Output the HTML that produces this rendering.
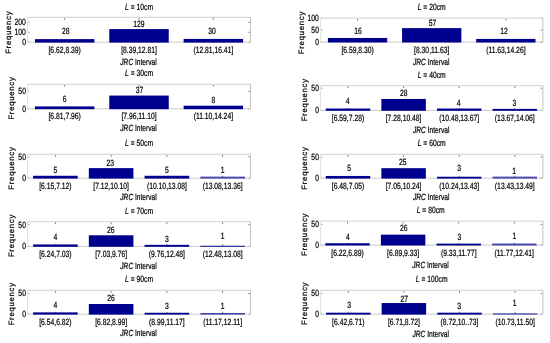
<!DOCTYPE html>
<html><head><meta charset="utf-8"><title>JRC interval frequency</title>
<style>
html,body{margin:0;padding:0;background:#fff}
svg{display:block;font-family:"Liberation Sans",sans-serif;text-rendering:geometricPrecision}
text{fill:#000;stroke:#000;stroke-width:0.22px}
</style></head><body>
<svg width="550" height="343" viewBox="0 0 550 343">
<rect width="550" height="343" fill="#fff"/>
<g><path d="M64.67 17.40v2.4M64.67 42.20v-2.4M139.00 17.40v2.4M139.00 42.20v-2.4M213.33 17.40v2.4M213.33 42.20v-2.4" stroke="#555" stroke-width="0.75" fill="none"/><path d="M250.5 42.20h-2.4M250.5 32.28h-2.4M250.5 22.36h-2.4" stroke="#777" stroke-width="0.75" fill="none"/><path d="M27.5 42.20h2.2M27.5 32.28h2.2M27.5 22.36h2.2" stroke="#999" stroke-width="0.75" fill="none"/><path d="M27.5 17.4H250.5" stroke="#d8d8d8" stroke-width="1.2" fill="none"/><path d="M27.5 17.4V42.2" stroke="#e2e2e2" stroke-width="1" fill="none"/><path d="M27.5 42.2H250.5" stroke="#cccccc" stroke-width="1" fill="none"/><path d="M250.5 17.4V42.2" stroke="#c2c2c2" stroke-width="1" fill="none"/><rect x="34.93" y="39.12" width="59.47" height="3.48" fill="#00008f"/><rect x="109.27" y="29.10" width="59.47" height="13.50" fill="#00008f"/><rect x="183.60" y="38.92" width="59.47" height="3.68" fill="#00008f"/><text transform="translate(65.80 34.30) scale(0.752 1)" text-anchor="middle" font-size="9.0">28</text><text transform="translate(64.67 52.80) scale(0.752 1)" text-anchor="middle" font-size="9.0">[6.62,8.39)</text><text transform="translate(138.90 26.90) scale(0.752 1)" text-anchor="middle" font-size="9.0">129</text><text transform="translate(139.00 52.80) scale(0.752 1)" text-anchor="middle" font-size="9.0">[8.39,12.81]</text><text transform="translate(211.90 33.50) scale(0.752 1)" text-anchor="middle" font-size="9.0">30</text><text transform="translate(213.33 52.80) scale(0.752 1)" text-anchor="middle" font-size="9.0">(12.81,16.41]</text><text transform="translate(25.90 45.00) scale(0.752 1)" text-anchor="end" font-size="9.0">0</text><text transform="translate(25.90 35.08) scale(0.752 1)" text-anchor="end" font-size="9.0">100</text><text transform="translate(25.90 25.16) scale(0.752 1)" text-anchor="end" font-size="9.0">200</text><text transform="translate(139.00 10.00) scale(0.752 1)" text-anchor="middle" font-size="9.0"><tspan font-style="italic">L</tspan> = 10cm</text><text transform="translate(138.50 64.70) scale(0.735 1)" text-anchor="middle" font-size="9.0"><tspan font-style="italic">JRC</tspan> Interval</text><text transform="translate(11.10 32.30) rotate(-90)" text-anchor="middle" font-size="7.8" letter-spacing="0.7" stroke-width="0.12">Frequency</text></g>
<g><path d="M357.57 18.10v2.4M357.57 42.10v-2.4M431.70 18.10v2.4M431.70 42.10v-2.4M505.83 18.10v2.4M505.83 42.10v-2.4" stroke="#555" stroke-width="0.75" fill="none"/><path d="M542.9 42.10h-2.4M542.9 30.10h-2.4M542.9 18.10h-2.4" stroke="#777" stroke-width="0.75" fill="none"/><path d="M320.5 42.10h2.2M320.5 30.10h2.2M320.5 18.10h2.2" stroke="#999" stroke-width="0.75" fill="none"/><path d="M320.5 18.1H542.9" stroke="#d8d8d8" stroke-width="1.2" fill="none"/><path d="M320.5 18.1V42.1" stroke="#e2e2e2" stroke-width="1" fill="none"/><path d="M320.5 42.1H542.9" stroke="#cccccc" stroke-width="1" fill="none"/><path d="M542.9 18.1V42.1" stroke="#c2c2c2" stroke-width="1" fill="none"/><rect x="327.91" y="37.96" width="59.31" height="4.54" fill="#00008f"/><rect x="402.05" y="28.12" width="59.31" height="14.38" fill="#00008f"/><rect x="476.18" y="38.92" width="59.31" height="3.58" fill="#00008f"/><text transform="translate(358.00 33.80) scale(0.752 1)" text-anchor="middle" font-size="9.0">16</text><text transform="translate(357.57 52.70) scale(0.752 1)" text-anchor="middle" font-size="9.0">[6.59,8.30)</text><text transform="translate(432.50 25.90) scale(0.752 1)" text-anchor="middle" font-size="9.0">57</text><text transform="translate(431.70 52.70) scale(0.752 1)" text-anchor="middle" font-size="9.0">[8.30,11.63]</text><text transform="translate(504.00 33.90) scale(0.752 1)" text-anchor="middle" font-size="9.0">12</text><text transform="translate(505.83 52.70) scale(0.752 1)" text-anchor="middle" font-size="9.0">(11.63,14.26]</text><text transform="translate(318.90 44.90) scale(0.752 1)" text-anchor="end" font-size="9.0">0</text><text transform="translate(318.90 32.90) scale(0.752 1)" text-anchor="end" font-size="9.0">50</text><text transform="translate(318.90 20.90) scale(0.752 1)" text-anchor="end" font-size="9.0">100</text><text transform="translate(431.70 9.70) scale(0.752 1)" text-anchor="middle" font-size="9.0"><tspan font-style="italic">L</tspan> = 20cm</text><text transform="translate(431.20 64.60) scale(0.735 1)" text-anchor="middle" font-size="9.0"><tspan font-style="italic">JRC</tspan> Interval</text><text transform="translate(304.10 32.60) rotate(-90)" text-anchor="middle" font-size="7.8" letter-spacing="0.7" stroke-width="0.12">Frequency</text></g>
<g><path d="M64.67 84.30v2.4M64.67 108.80v-2.4M139.00 84.30v2.4M139.00 108.80v-2.4M213.33 84.30v2.4M213.33 108.80v-2.4" stroke="#555" stroke-width="0.75" fill="none"/><path d="M250.5 108.80h-2.4M250.5 91.30h-2.4" stroke="#777" stroke-width="0.75" fill="none"/><path d="M27.5 108.80h2.2M27.5 91.30h2.2" stroke="#999" stroke-width="0.75" fill="none"/><path d="M27.5 84.3H250.5" stroke="#d8d8d8" stroke-width="1.2" fill="none"/><path d="M27.5 84.3V108.8" stroke="#e2e2e2" stroke-width="1" fill="none"/><path d="M27.5 108.8H250.5" stroke="#cccccc" stroke-width="1" fill="none"/><path d="M250.5 84.3V108.8" stroke="#c2c2c2" stroke-width="1" fill="none"/><rect x="34.93" y="106.40" width="59.47" height="2.80" fill="#00008f"/><rect x="109.27" y="95.55" width="59.47" height="13.65" fill="#00008f"/><rect x="183.60" y="105.70" width="59.47" height="3.50" fill="#00008f"/><text transform="translate(64.70 102.20) scale(0.752 1)" text-anchor="middle" font-size="9.0">6</text><text transform="translate(64.67 119.20) scale(0.752 1)" text-anchor="middle" font-size="9.0">[6.81,7.96)</text><text transform="translate(139.40 92.50) scale(0.752 1)" text-anchor="middle" font-size="9.0">37</text><text transform="translate(139.00 119.20) scale(0.752 1)" text-anchor="middle" font-size="9.0">[7.96,11.10]</text><text transform="translate(213.50 102.80) scale(0.752 1)" text-anchor="middle" font-size="9.0">8</text><text transform="translate(213.33 119.20) scale(0.752 1)" text-anchor="middle" font-size="9.0">(11.10,14.24]</text><text transform="translate(25.90 111.60) scale(0.752 1)" text-anchor="end" font-size="9.0">0</text><text transform="translate(25.90 94.10) scale(0.752 1)" text-anchor="end" font-size="9.0">50</text><text transform="translate(139.00 75.90) scale(0.752 1)" text-anchor="middle" font-size="9.0"><tspan font-style="italic">L</tspan> = 30cm</text><text transform="translate(138.50 131.10) scale(0.735 1)" text-anchor="middle" font-size="9.0"><tspan font-style="italic">JRC</tspan> Interval</text><text transform="translate(13.60 98.05) rotate(-90)" text-anchor="middle" font-size="7.8" letter-spacing="0.7" stroke-width="0.12">Frequency</text></g>
<g><path d="M348.00 85.60v2.4M348.00 110.40v-2.4M403.60 85.60v2.4M403.60 110.40v-2.4M459.20 85.60v2.4M459.20 110.40v-2.4M514.80 85.60v2.4M514.80 110.40v-2.4" stroke="#555" stroke-width="0.75" fill="none"/><path d="M542.9 110.40h-2.4M542.9 88.26h-2.4" stroke="#777" stroke-width="0.75" fill="none"/><path d="M320.5 110.40h2.2M320.5 88.26h2.2" stroke="#999" stroke-width="0.75" fill="none"/><path d="M320.5 85.6H542.9" stroke="#d8d8d8" stroke-width="1.2" fill="none"/><path d="M320.5 85.6V110.4" stroke="#e2e2e2" stroke-width="1" fill="none"/><path d="M320.5 110.4H542.9" stroke="#cccccc" stroke-width="1" fill="none"/><path d="M542.9 85.6V110.4" stroke="#c2c2c2" stroke-width="1" fill="none"/><rect x="325.76" y="108.51" width="44.48" height="2.29" fill="#00008f"/><rect x="381.36" y="98.94" width="44.48" height="11.86" fill="#00008f"/><rect x="436.96" y="108.51" width="44.48" height="2.29" fill="#00008f"/><rect x="492.56" y="108.90" width="44.48" height="1.90" fill="#00008f"/><text transform="translate(347.75 104.40) scale(0.752 1)" text-anchor="middle" font-size="9.0">4</text><text transform="translate(348.00 121.20) scale(0.752 1)" text-anchor="middle" font-size="9.0">[6.59,7.28)</text><text transform="translate(403.75 96.30) scale(0.752 1)" text-anchor="middle" font-size="9.0">28</text><text transform="translate(403.60 121.20) scale(0.752 1)" text-anchor="middle" font-size="9.0">[7.28,10.48]</text><text transform="translate(458.75 105.60) scale(0.752 1)" text-anchor="middle" font-size="9.0">4</text><text transform="translate(459.20 121.20) scale(0.752 1)" text-anchor="middle" font-size="9.0">(10.48,13.67]</text><text transform="translate(514.35 106.00) scale(0.752 1)" text-anchor="middle" font-size="9.0">3</text><text transform="translate(514.80 121.20) scale(0.752 1)" text-anchor="middle" font-size="9.0">(13.67,14.06]</text><text transform="translate(318.90 113.20) scale(0.752 1)" text-anchor="end" font-size="9.0">0</text><text transform="translate(318.90 91.06) scale(0.752 1)" text-anchor="end" font-size="9.0">50</text><text transform="translate(431.70 77.80) scale(0.752 1)" text-anchor="middle" font-size="9.0"><tspan font-style="italic">L</tspan> = 40cm</text><text transform="translate(431.20 132.70) scale(0.735 1)" text-anchor="middle" font-size="9.0"><tspan font-style="italic">JRC</tspan> Interval</text><text transform="translate(307.10 99.80) rotate(-90)" text-anchor="middle" font-size="7.8" letter-spacing="0.7" stroke-width="0.12">Frequency</text></g>
<g><path d="M55.38 154.40v2.4M55.38 178.20v-2.4M111.12 154.40v2.4M111.12 178.20v-2.4M166.88 154.40v2.4M166.88 178.20v-2.4M222.62 154.40v2.4M222.62 178.20v-2.4" stroke="#555" stroke-width="0.75" fill="none"/><path d="M250.5 178.20h-2.4M250.5 156.95h-2.4" stroke="#777" stroke-width="0.75" fill="none"/><path d="M27.5 178.20h2.2M27.5 156.95h2.2" stroke="#999" stroke-width="0.75" fill="none"/><path d="M27.5 154.4H250.5" stroke="#d8d8d8" stroke-width="1.2" fill="none"/><path d="M27.5 154.4V178.2" stroke="#e2e2e2" stroke-width="1" fill="none"/><path d="M27.5 178.2H250.5" stroke="#cccccc" stroke-width="1" fill="none"/><path d="M250.5 154.4V178.2" stroke="#c2c2c2" stroke-width="1" fill="none"/><rect x="33.08" y="175.77" width="44.60" height="2.82" fill="#00008f"/><rect x="88.83" y="168.12" width="44.60" height="10.47" fill="#00008f"/><rect x="144.57" y="175.77" width="44.60" height="2.82" fill="#00008f"/><rect x="200.32" y="176.60" width="44.60" height="2.00" fill="#00008f" opacity="0.68"/><text transform="translate(55.40 172.70) scale(0.752 1)" text-anchor="middle" font-size="9.0">5</text><text transform="translate(55.38 189.10) scale(0.752 1)" text-anchor="middle" font-size="9.0">[6.15,7.12)</text><text transform="translate(110.30 166.30) scale(0.752 1)" text-anchor="middle" font-size="9.0">23</text><text transform="translate(111.12 189.10) scale(0.752 1)" text-anchor="middle" font-size="9.0">[7.12,10.10]</text><text transform="translate(166.90 172.60) scale(0.752 1)" text-anchor="middle" font-size="9.0">5</text><text transform="translate(166.88 189.10) scale(0.752 1)" text-anchor="middle" font-size="9.0">(10.10,13.08]</text><text transform="translate(222.60 172.90) scale(0.752 1)" text-anchor="middle" font-size="9.0">1</text><text transform="translate(222.62 189.10) scale(0.752 1)" text-anchor="middle" font-size="9.0">(13.08,13.36]</text><text transform="translate(25.90 181.00) scale(0.752 1)" text-anchor="end" font-size="9.0">0</text><text transform="translate(25.90 159.75) scale(0.752 1)" text-anchor="end" font-size="9.0">50</text><text transform="translate(139.00 146.00) scale(0.752 1)" text-anchor="middle" font-size="9.0"><tspan font-style="italic">L</tspan> = 50cm</text><text transform="translate(138.50 200.30) scale(0.735 1)" text-anchor="middle" font-size="9.0"><tspan font-style="italic">JRC</tspan> Interval</text><text transform="translate(13.60 168.10) rotate(-90)" text-anchor="middle" font-size="7.8" letter-spacing="0.7" stroke-width="0.12">Frequency</text></g>
<g><path d="M348.00 154.40v2.4M348.00 178.20v-2.4M403.60 154.40v2.4M403.60 178.20v-2.4M459.20 154.40v2.4M459.20 178.20v-2.4M514.80 154.40v2.4M514.80 178.20v-2.4" stroke="#555" stroke-width="0.75" fill="none"/><path d="M542.9 178.20h-2.4M542.9 156.95h-2.4" stroke="#777" stroke-width="0.75" fill="none"/><path d="M320.5 178.20h2.2M320.5 156.95h2.2" stroke="#999" stroke-width="0.75" fill="none"/><path d="M320.5 154.4H542.9" stroke="#d8d8d8" stroke-width="1.2" fill="none"/><path d="M320.5 154.4V178.2" stroke="#e2e2e2" stroke-width="1" fill="none"/><path d="M320.5 178.2H542.9" stroke="#cccccc" stroke-width="1" fill="none"/><path d="M542.9 154.4V178.2" stroke="#c2c2c2" stroke-width="1" fill="none"/><rect x="325.76" y="175.96" width="44.48" height="2.64" fill="#00008f"/><rect x="381.36" y="168.18" width="44.48" height="10.42" fill="#00008f"/><rect x="436.96" y="176.73" width="44.48" height="1.87" fill="#00008f"/><rect x="492.56" y="176.60" width="44.48" height="2.00" fill="#00008f" opacity="0.68"/><text transform="translate(349.05 170.60) scale(0.752 1)" text-anchor="middle" font-size="9.0">5</text><text transform="translate(348.00 188.70) scale(0.752 1)" text-anchor="middle" font-size="9.0">[6.48,7.05)</text><text transform="translate(402.75 165.20) scale(0.752 1)" text-anchor="middle" font-size="9.0">25</text><text transform="translate(403.60 188.70) scale(0.752 1)" text-anchor="middle" font-size="9.0">[7.05,10.24]</text><text transform="translate(459.25 171.40) scale(0.752 1)" text-anchor="middle" font-size="9.0">3</text><text transform="translate(459.20 188.70) scale(0.752 1)" text-anchor="middle" font-size="9.0">(10.24,13.43]</text><text transform="translate(514.25 174.20) scale(0.752 1)" text-anchor="middle" font-size="9.0">1</text><text transform="translate(514.80 188.70) scale(0.752 1)" text-anchor="middle" font-size="9.0">(13.43,13.49]</text><text transform="translate(318.90 181.00) scale(0.752 1)" text-anchor="end" font-size="9.0">0</text><text transform="translate(318.90 159.75) scale(0.752 1)" text-anchor="end" font-size="9.0">50</text><text transform="translate(431.70 146.00) scale(0.752 1)" text-anchor="middle" font-size="9.0"><tspan font-style="italic">L</tspan> = 60cm</text><text transform="translate(431.20 200.30) scale(0.735 1)" text-anchor="middle" font-size="9.0"><tspan font-style="italic">JRC</tspan> Interval</text><text transform="translate(307.10 168.10) rotate(-90)" text-anchor="middle" font-size="7.8" letter-spacing="0.7" stroke-width="0.12">Frequency</text></g>
<g><path d="M55.38 221.70v2.4M55.38 246.40v-2.4M111.12 221.70v2.4M111.12 246.40v-2.4M166.88 221.70v2.4M166.88 246.40v-2.4M222.62 221.70v2.4M222.62 246.40v-2.4" stroke="#555" stroke-width="0.75" fill="none"/><path d="M250.5 246.40h-2.4M250.5 224.73h-2.4" stroke="#777" stroke-width="0.75" fill="none"/><path d="M27.5 246.40h2.2M27.5 224.73h2.2" stroke="#999" stroke-width="0.75" fill="none"/><path d="M27.5 221.7H250.5" stroke="#d8d8d8" stroke-width="1.2" fill="none"/><path d="M27.5 221.7V246.4" stroke="#e2e2e2" stroke-width="1" fill="none"/><path d="M27.5 246.4H250.5" stroke="#cccccc" stroke-width="1" fill="none"/><path d="M250.5 221.7V246.4" stroke="#c2c2c2" stroke-width="1" fill="none"/><rect x="33.08" y="244.44" width="44.60" height="2.36" fill="#00008f"/><rect x="88.83" y="235.28" width="44.60" height="11.52" fill="#00008f"/><rect x="144.57" y="244.85" width="44.60" height="1.95" fill="#00008f"/><rect x="200.32" y="245.75" width="44.60" height="1.05" fill="#00008f" opacity="0.9"/><text transform="translate(55.40 239.60) scale(0.752 1)" text-anchor="middle" font-size="9.0">4</text><text transform="translate(55.38 257.40) scale(0.752 1)" text-anchor="middle" font-size="9.0">[6.24,7.03)</text><text transform="translate(110.70 232.70) scale(0.752 1)" text-anchor="middle" font-size="9.0">26</text><text transform="translate(111.12 257.40) scale(0.752 1)" text-anchor="middle" font-size="9.0">[7.03,9.76]</text><text transform="translate(166.90 242.20) scale(0.752 1)" text-anchor="middle" font-size="9.0">3</text><text transform="translate(166.88 257.40) scale(0.752 1)" text-anchor="middle" font-size="9.0">(9.76,12.48]</text><text transform="translate(222.60 239.20) scale(0.752 1)" text-anchor="middle" font-size="9.0">1</text><text transform="translate(222.62 257.40) scale(0.752 1)" text-anchor="middle" font-size="9.0">(12.48,13.08]</text><text transform="translate(25.90 249.20) scale(0.752 1)" text-anchor="end" font-size="9.0">0</text><text transform="translate(25.90 227.53) scale(0.752 1)" text-anchor="end" font-size="9.0">50</text><text transform="translate(139.00 213.80) scale(0.752 1)" text-anchor="middle" font-size="9.0"><tspan font-style="italic">L</tspan> = 70cm</text><text transform="translate(138.50 268.70) scale(0.735 1)" text-anchor="middle" font-size="9.0"><tspan font-style="italic">JRC</tspan> Interval</text><text transform="translate(13.60 235.55) rotate(-90)" text-anchor="middle" font-size="7.8" letter-spacing="0.7" stroke-width="0.12">Frequency</text></g>
<g><path d="M347.50 221.10v2.4M347.50 245.10v-2.4M403.10 221.10v2.4M403.10 245.10v-2.4M458.70 221.10v2.4M458.70 245.10v-2.4M514.30 221.10v2.4M514.30 245.10v-2.4" stroke="#555" stroke-width="0.75" fill="none"/><path d="M542.9 245.10h-2.4M542.9 224.59h-2.4" stroke="#777" stroke-width="0.75" fill="none"/><path d="M320.5 245.10h2.2M320.5 224.59h2.2" stroke="#999" stroke-width="0.75" fill="none"/><path d="M320.5 221.1H542.9" stroke="#d8d8d8" stroke-width="1.2" fill="none"/><path d="M320.5 221.1V245.1" stroke="#e2e2e2" stroke-width="1" fill="none"/><path d="M320.5 245.1H542.9" stroke="#cccccc" stroke-width="1" fill="none"/><path d="M542.9 221.1V245.1" stroke="#c2c2c2" stroke-width="1" fill="none"/><rect x="325.26" y="243.24" width="44.48" height="2.26" fill="#00008f"/><rect x="380.86" y="234.67" width="44.48" height="10.83" fill="#00008f"/><rect x="436.46" y="243.63" width="44.48" height="1.87" fill="#00008f"/><rect x="492.06" y="243.50" width="44.48" height="2.00" fill="#00008f" opacity="0.68"/><text transform="translate(348.00 239.60) scale(0.752 1)" text-anchor="middle" font-size="9.0">4</text><text transform="translate(347.50 256.20) scale(0.752 1)" text-anchor="middle" font-size="9.0">[6.22,6.89)</text><text transform="translate(403.75 230.70) scale(0.752 1)" text-anchor="middle" font-size="9.0">26</text><text transform="translate(403.10 256.20) scale(0.752 1)" text-anchor="middle" font-size="9.0">[6.89,9.33]</text><text transform="translate(459.40 239.90) scale(0.752 1)" text-anchor="middle" font-size="9.0">3</text><text transform="translate(458.70 256.20) scale(0.752 1)" text-anchor="middle" font-size="9.0">(9.33,11.77]</text><text transform="translate(514.40 238.60) scale(0.752 1)" text-anchor="middle" font-size="9.0">1</text><text transform="translate(514.30 256.20) scale(0.752 1)" text-anchor="middle" font-size="9.0">(11.77,12.41]</text><text transform="translate(318.90 247.90) scale(0.752 1)" text-anchor="end" font-size="9.0">0</text><text transform="translate(318.90 227.39) scale(0.752 1)" text-anchor="end" font-size="9.0">50</text><text transform="translate(430.70 212.80) scale(0.752 1)" text-anchor="middle" font-size="9.0"><tspan font-style="italic">L</tspan> = 80cm</text><text transform="translate(430.50 267.50) scale(0.735 1)" text-anchor="middle" font-size="9.0"><tspan font-style="italic">JRC</tspan> Interval</text><text transform="translate(307.10 234.40) rotate(-90)" text-anchor="middle" font-size="7.8" letter-spacing="0.7" stroke-width="0.12">Frequency</text></g>
<g><path d="M55.38 290.40v2.4M55.38 314.20v-2.4M111.12 290.40v2.4M111.12 314.20v-2.4M166.88 290.40v2.4M166.88 314.20v-2.4M222.62 290.40v2.4M222.62 314.20v-2.4" stroke="#555" stroke-width="0.75" fill="none"/><path d="M250.5 314.20h-2.4M250.5 293.50h-2.4" stroke="#777" stroke-width="0.75" fill="none"/><path d="M27.5 314.20h2.2M27.5 293.50h2.2" stroke="#999" stroke-width="0.75" fill="none"/><path d="M27.5 290.4H250.5" stroke="#d8d8d8" stroke-width="1.2" fill="none"/><path d="M27.5 290.4V314.2" stroke="#e2e2e2" stroke-width="1" fill="none"/><path d="M27.5 314.2H250.5" stroke="#cccccc" stroke-width="1" fill="none"/><path d="M250.5 290.4V314.2" stroke="#c2c2c2" stroke-width="1" fill="none"/><rect x="33.08" y="312.38" width="44.60" height="2.22" fill="#00008f"/><rect x="88.83" y="304.00" width="44.60" height="10.60" fill="#00008f"/><rect x="144.57" y="312.76" width="44.60" height="1.84" fill="#00008f"/><rect x="200.32" y="313.00" width="44.60" height="1.60" fill="#00008f" opacity="0.7"/><text transform="translate(55.40 307.60) scale(0.752 1)" text-anchor="middle" font-size="9.0">4</text><text transform="translate(55.38 325.00) scale(0.752 1)" text-anchor="middle" font-size="9.0">[6.54,6.82)</text><text transform="translate(111.10 300.70) scale(0.752 1)" text-anchor="middle" font-size="9.0">26</text><text transform="translate(111.12 325.00) scale(0.752 1)" text-anchor="middle" font-size="9.0">[6.82,8.99]</text><text transform="translate(166.90 309.20) scale(0.752 1)" text-anchor="middle" font-size="9.0">3</text><text transform="translate(166.88 325.00) scale(0.752 1)" text-anchor="middle" font-size="9.0">(8.99,11.17]</text><text transform="translate(222.60 308.60) scale(0.752 1)" text-anchor="middle" font-size="9.0">1</text><text transform="translate(222.62 325.00) scale(0.752 1)" text-anchor="middle" font-size="9.0">(11.17,12.11]</text><text transform="translate(25.90 317.00) scale(0.752 1)" text-anchor="end" font-size="9.0">0</text><text transform="translate(25.90 296.30) scale(0.752 1)" text-anchor="end" font-size="9.0">50</text><text transform="translate(139.00 282.40) scale(0.752 1)" text-anchor="middle" font-size="9.0"><tspan font-style="italic">L</tspan> = 90cm</text><text transform="translate(138.50 336.30) scale(0.735 1)" text-anchor="middle" font-size="9.0"><tspan font-style="italic">JRC</tspan> Interval</text><text transform="translate(13.60 303.80) rotate(-90)" text-anchor="middle" font-size="7.8" letter-spacing="0.7" stroke-width="0.12">Frequency</text></g>
<g><path d="M348.30 290.40v2.4M348.30 314.20v-2.4M403.90 290.40v2.4M403.90 314.20v-2.4M459.50 290.40v2.4M459.50 314.20v-2.4M515.10 290.40v2.4M515.10 314.20v-2.4" stroke="#555" stroke-width="0.75" fill="none"/><path d="M542.9 314.20h-2.4M542.9 293.68h-2.4" stroke="#777" stroke-width="0.75" fill="none"/><path d="M320.5 314.20h2.2M320.5 293.68h2.2" stroke="#999" stroke-width="0.75" fill="none"/><path d="M320.5 290.4H542.9" stroke="#d8d8d8" stroke-width="1.2" fill="none"/><path d="M320.5 290.4V314.2" stroke="#e2e2e2" stroke-width="1" fill="none"/><path d="M320.5 314.2H542.9" stroke="#cccccc" stroke-width="1" fill="none"/><path d="M542.9 290.4V314.2" stroke="#c2c2c2" stroke-width="1" fill="none"/><rect x="326.06" y="312.69" width="44.48" height="1.91" fill="#00008f"/><rect x="381.66" y="303.04" width="44.48" height="11.56" fill="#00008f"/><rect x="437.26" y="312.69" width="44.48" height="1.91" fill="#00008f"/><rect x="492.86" y="313.30" width="44.48" height="1.30" fill="#00008f" opacity="0.7"/><text transform="translate(349.05 307.70) scale(0.752 1)" text-anchor="middle" font-size="9.0">3</text><text transform="translate(348.30 324.50) scale(0.752 1)" text-anchor="middle" font-size="9.0">[6.42,6.71)</text><text transform="translate(404.15 301.60) scale(0.752 1)" text-anchor="middle" font-size="9.0">27</text><text transform="translate(403.90 324.50) scale(0.752 1)" text-anchor="middle" font-size="9.0">[6.71,8.72]</text><text transform="translate(459.25 308.50) scale(0.752 1)" text-anchor="middle" font-size="9.0">3</text><text transform="translate(459.50 324.50) scale(0.752 1)" text-anchor="middle" font-size="9.0">(8.72,10..73]</text><text transform="translate(514.60 306.30) scale(0.752 1)" text-anchor="middle" font-size="9.0">1</text><text transform="translate(515.10 324.50) scale(0.752 1)" text-anchor="middle" font-size="9.0">(10.73,11.50]</text><text transform="translate(318.90 317.00) scale(0.752 1)" text-anchor="end" font-size="9.0">0</text><text transform="translate(318.90 296.48) scale(0.752 1)" text-anchor="end" font-size="9.0">50</text><text transform="translate(431.70 282.40) scale(0.752 1)" text-anchor="middle" font-size="9.0"><tspan font-style="italic">L</tspan> = 100cm</text><text transform="translate(430.70 336.60) scale(0.735 1)" text-anchor="middle" font-size="9.0"><tspan font-style="italic">JRC</tspan> Interval</text><text transform="translate(307.10 303.40) rotate(-90)" text-anchor="middle" font-size="7.8" letter-spacing="0.7" stroke-width="0.12">Frequency</text></g>
</svg>
</body></html>
